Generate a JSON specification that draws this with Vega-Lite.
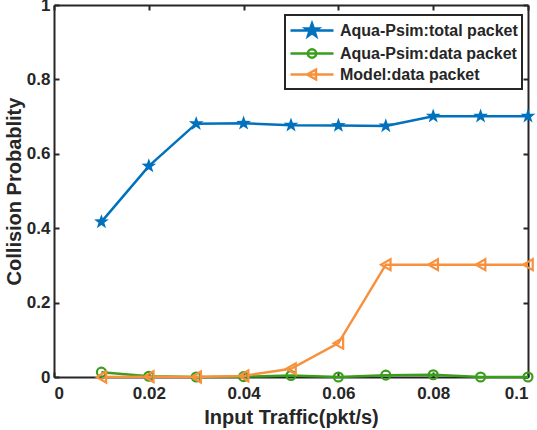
{
  "$schema": "https://vega.github.io/schema/vega-lite/v6.json",
  "width": 474,
  "height": 372,
  "autosize": {"type": "none"},
  "padding": {"left": 54, "top": 5, "right": 9, "bottom": 53},
  "background": "white",
  "config": {
    "view": {"stroke": null},
    "font": "Liberation Sans",
    "axis": {
      "labelFont": "Liberation Sans", "labelFontWeight": "bold", "labelFontSize": 17, "labelColor": "#262626",
      "titleFont": "Liberation Sans", "titleFontWeight": "bold", "titleFontSize": 20, "titleColor": "#262626",
      "domainColor": "#262626", "domainWidth": 2, "tickColor": "#262626", "tickWidth": 2, "tickSize": -5,
      "grid": false
    },
    "legend": {
      "labelFont": "Liberation Sans", "labelFontWeight": "bold", "labelFontSize": 16, "labelColor": "#262626", "labelLimit": 400
    }
  },
  "data": {
    "values": [
      {"x": 0.01, "y": 0.417, "series": "Aqua-Psim:total packet"},
      {"x": 0.02, "y": 0.567, "series": "Aqua-Psim:total packet"},
      {"x": 0.03, "y": 0.681, "series": "Aqua-Psim:total packet"},
      {"x": 0.04, "y": 0.682, "series": "Aqua-Psim:total packet"},
      {"x": 0.05, "y": 0.677, "series": "Aqua-Psim:total packet"},
      {"x": 0.06, "y": 0.676, "series": "Aqua-Psim:total packet"},
      {"x": 0.07, "y": 0.675, "series": "Aqua-Psim:total packet"},
      {"x": 0.08, "y": 0.701, "series": "Aqua-Psim:total packet"},
      {"x": 0.09, "y": 0.701, "series": "Aqua-Psim:total packet"},
      {"x": 0.10, "y": 0.701, "series": "Aqua-Psim:total packet"},
      {"x": 0.01, "y": 0.013, "series": "Aqua-Psim:data packet"},
      {"x": 0.02, "y": 0.002, "series": "Aqua-Psim:data packet"},
      {"x": 0.03, "y": 0.0, "series": "Aqua-Psim:data packet"},
      {"x": 0.04, "y": 0.001, "series": "Aqua-Psim:data packet"},
      {"x": 0.05, "y": 0.004, "series": "Aqua-Psim:data packet"},
      {"x": 0.06, "y": 0.0, "series": "Aqua-Psim:data packet"},
      {"x": 0.07, "y": 0.005, "series": "Aqua-Psim:data packet"},
      {"x": 0.08, "y": 0.006, "series": "Aqua-Psim:data packet"},
      {"x": 0.09, "y": 0.0, "series": "Aqua-Psim:data packet"},
      {"x": 0.10, "y": 0.0, "series": "Aqua-Psim:data packet"},
      {"x": 0.01, "y": 0.0, "series": "Model:data packet"},
      {"x": 0.02, "y": 0.001, "series": "Model:data packet"},
      {"x": 0.03, "y": 0.0, "series": "Model:data packet"},
      {"x": 0.04, "y": 0.003, "series": "Model:data packet"},
      {"x": 0.05, "y": 0.022, "series": "Model:data packet"},
      {"x": 0.06, "y": 0.091, "series": "Model:data packet"},
      {"x": 0.07, "y": 0.302, "series": "Model:data packet"},
      {"x": 0.08, "y": 0.302, "series": "Model:data packet"},
      {"x": 0.09, "y": 0.302, "series": "Model:data packet"},
      {"x": 0.10, "y": 0.302, "series": "Model:data packet"}
    ]
  },
  "resolve": {"axis": {"x": "independent", "y": "independent"}},
  "layer": [
    {
      "mark": {"type": "line", "strokeWidth": 2.5},
      "encoding": {
        "x": {"field": "x", "type": "quantitative", "scale": {"domain": [0, 0.1], "nice": false, "zero": false},
          "axis": {"values": [0, 0.02, 0.04, 0.06, 0.08, 0.1], "format": "~g", "title": "Input Traffic(pkt/s)", "labelPadding": 13, "titlePadding": 6}},
        "y": {"field": "y", "type": "quantitative", "scale": {"domain": [0, 1], "nice": false},
          "axis": {"values": [0, 0.2, 0.4, 0.6, 0.8, 1], "format": "~g", "title": "Collision Probablity", "labelPadding": 9, "titlePadding": 2}},
        "color": {"field": "series", "type": "nominal",
          "scale": {"domain": ["Aqua-Psim:total packet", "Aqua-Psim:data packet", "Model:data packet"], "range": ["#0072BD", "#3A9E1C", "#F7913D"]},
          "legend": {
            "title": null, "orient": "none", "legendX": 231, "legendY": 10,
            "strokeColor": "#262626", "padding": 4, "fillColor": "white",
            "symbolSize": 400, "labelOffset": 28, "rowPadding": -1,
            "encoding": {
              "legend": {"strokeWidth": {"value": 2}},
              "symbols": {
                "shape": {"condition": [
                  {"test": "datum.value == 'Aqua-Psim:total packet'", "value": "M-1,0L3.3,0M1.15,-0.7L1.315,-0.227L1.816,-0.216L1.416,0.087L1.561,0.566L1.15,0.28L0.739,0.566L0.884,0.087L0.484,-0.216L0.985,-0.227Z"},
                  {"test": "datum.value == 'Aqua-Psim:data packet'", "value": "M-1,0L3.3,0M1.57,0A0.42,0.42 0 1,1 0.73,0A0.42,0.42 0 1,1 1.57,0"}],
                  "value": "M-1,0L3.3,0M0.65,0L1.55,-0.5L1.55,0.5Z"},
                "fill": {"condition": {"test": "datum.value == 'Aqua-Psim:total packet'", "value": "#0072BD"}, "value": "transparent"},
                "strokeWidth": {"value": 2.5},
                "opacity": {"value": 1}
              }
            }
          }}
      }
    },
    {
      "transform": [{"filter": "datum.series == 'Aqua-Psim:total packet'"}],
      "mark": {"type": "point", "filled": true, "color": "#0072BD", "size": 240, "opacity": 1,
        "shape": "M0,-1L0.235,-0.324L0.951,-0.309L0.38,0.124L0.588,0.809L0,0.4L-0.588,0.809L-0.38,0.124L-0.951,-0.309L-0.235,-0.324Z"},
      "encoding": {
        "x": {"field": "x", "type": "quantitative", "axis": null},
        "y": {"field": "y", "type": "quantitative", "axis": null}
      }
    },
    {
      "transform": [{"filter": "datum.series == 'Aqua-Psim:data packet'"}],
      "mark": {"type": "point", "filled": false, "color": "#3A9E1C", "size": 80, "strokeWidth": 2.2, "opacity": 1, "shape": "circle"},
      "encoding": {
        "x": {"field": "x", "type": "quantitative", "axis": null},
        "y": {"field": "y", "type": "quantitative", "axis": null}
      }
    },
    {
      "transform": [{"filter": "datum.series == 'Model:data packet'"}],
      "mark": {"type": "point", "filled": false, "color": "#F7913D", "size": 120, "strokeWidth": 2.2, "opacity": 1, "shape": "triangle-left"},
      "encoding": {
        "x": {"field": "x", "type": "quantitative", "axis": null},
        "y": {"field": "y", "type": "quantitative", "axis": null}
      }
    },
    {
      "mark": {"type": "point", "opacity": 0},
      "encoding": {
        "x": {"field": "x", "type": "quantitative",
          "axis": {"orient": "top", "values": [0, 0.02, 0.04, 0.06, 0.08, 0.1], "labels": false, "title": null}},
        "y": {"field": "y", "type": "quantitative",
          "axis": {"orient": "right", "values": [0, 0.2, 0.4, 0.6, 0.8, 1], "labels": false, "title": null}}
      }
    }
  ]
}
